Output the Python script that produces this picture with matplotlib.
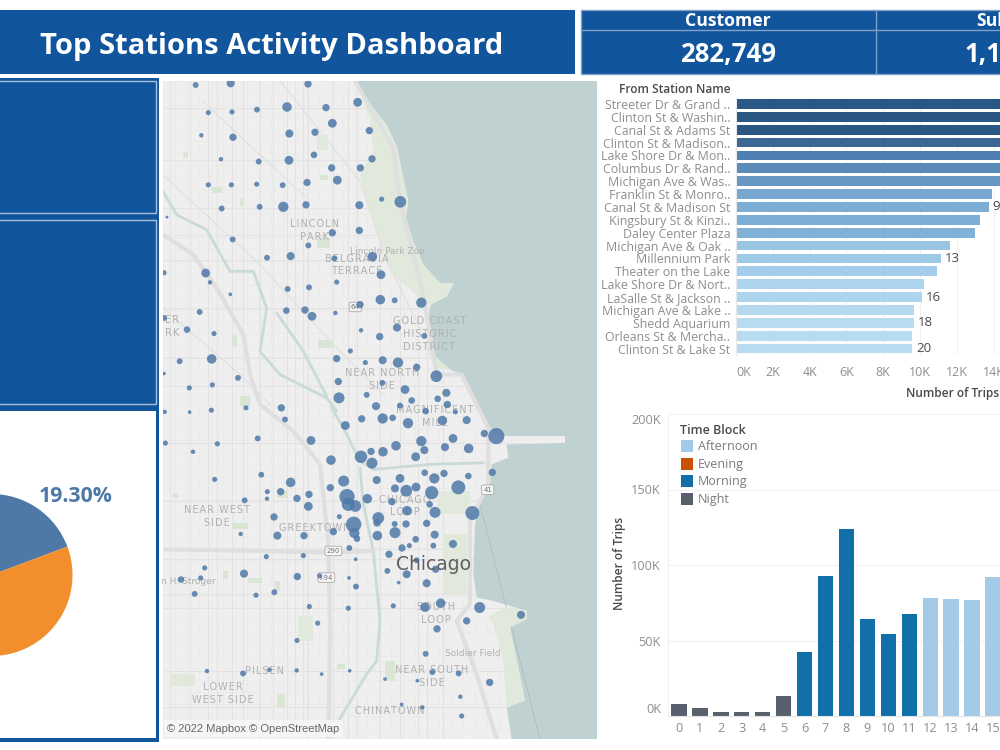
import matplotlib
matplotlib.use("Agg")
import matplotlib.pyplot as plt
import matplotlib.patches as mpatches

plt.rcParams['font.family'] = ['Open Sans', 'DejaVu Sans']

# Bar chart of top stations
station_names = ["Streeter Dr & Grand ..", "Clinton St & Washin..", "Canal St & Adams St", "Clinton St & Madison..",
                 "Lake Shore Dr & Mon..", "Columbus Dr & Rand..", "Michigan Ave & Was..", "Franklin St & Monro..",
                 "Canal St & Madison St", "Kingsbury St & Kinzi..", "Daley Center Plaza", "Michigan Ave & Oak ..",
                 "Millennium Park", "Theater on the Lake", "Lake Shore Dr & Nort..", "LaSalle St & Jackson ..",
                 "Michigan Ave & Lake ..", "Shedd Aquarium", "Orleans St & Mercha..", "Clinton St & Lake St"]
station_trips = [23.0, 21.5, 20.8, 19.6, 17.2, 16.6, 15.6, 13.9, 13.73, 13.24, 12.97, 11.63, 11.12, 10.95,
                 10.23, 10.1, 9.69, 9.66, 9.57, 9.57]
station_colors = ['#2a5783', '#2a5783', '#2a5783', '#3b6795', '#4f7fb0', '#5a8ab8', '#6897c3', '#77a7d0',
                  '#7cadd4', '#7cadd4', '#80b1d7', '#99c5e3', '#9fcae7', '#a3cdea', '#aed5ee', '#aed5ee',
                  '#b5daf0', '#b7dbf0', '#b7dbf0', '#b7dbf0']
rank_shown = [9, 13, 16, 18, 20]
station_ticks = [0, 2, 4, 6, 8, 10, 12, 14]

# Trips per hour
hours = list(range(16))
hour_trips = [8.2, 5.1, 2.9, 2.4, 2.9, 13.2, 42.2, 92.9, 123.6, 64.0, 54.3, 67.8, 78.1, 77.7, 77.0, 92.3]
hour_blocks = ['Night'] * 6 + ['Morning'] * 6 + ['Afternoon'] * 4
block_names = ['Afternoon', 'Evening', 'Morning', 'Night']
block_colors = {'Afternoon': '#a3cbe8', 'Evening': '#c85200', 'Morning': '#1170aa', 'Night': '#57606c'}
trip_ticks = [0, 50, 100, 150, 200]

# Pie chart
pie_shares = [19.30, 80.70]
pie_colors = ['#4e79a7', '#f28e2b']

# KPI header
kpi_names = ['Customer', 'Subscriber']
kpi_values = ['282,749', '1,182,271']

north_stations = [(107,30,8),(212,25,11),(444,27,10),(593,82,12),(381,96,13),(498,98,10),(291,104,8),(145,113,7),
    (216,111,7),(517,145,12),(628,167,10),(388,176,11),(465,172,10),(124,181,6),(219,187,10),(462,240,9),(636,252,10),
    (183,253,6),(296,260,8),(387,256,12),(515,279,10),(601,279,10),(532,316,12),(441,323,10),(145,330,7),(214,330,7),
    (290,328,7),(368,331,8),(665,373,7),(721,381,16),(370,396,14),(438,390,10),(598,391,11),(299,396,8),(185,401,8),
    (21,427,4),(517,474,10),(598,467,10),(218,494,8),(445,512,8),(321,549,8),(392,544,11),(523,551,8),(637,546,13),
    (12,594,7),(137,595,12),(663,600,12),(150,623,6),(530,622,7),(383,643,8),(447,638,8),(211,659,5),(661,675,13),
    (704,677,8),(784,684,14),(600,690,10),(119,712,8),(379,708,9),(435,706,10),(456,725,12),(526,715,6),(12,730,8),
    (81,765,9),(162,777,7),(603,767,6),(711,759,11),(659,786,10),(793,784,8),(571,829,7),(155,853,13),(59,860,8),
    (530,852,10),(616,864,7),(668,857,11),(714,864,14),(770,878,10),(829,905,16),(12,897,5),(234,910,8),(535,921,10),
    (157,931,7),(88,940,7),(667,925,8),(735,945,12),(859,955,11),(620,961,8),(537,970,15),(755,978,9),(833,973,9),
    (862,990,10)]
south_stations = [(14,22,6),(89,23,5),(154,17,7),(258,10,7),(364,10,10),(375,45,8),(648,5,11),(720,3,8),(797,20,9),
    (605,43,10),(668,42,14),(698,40,9),(556,63,12),(744,56,14),(847,48,13),(886,22,7),(920,47,11),(973,87,10),
    (1009,95,22),(293,102,8),(453,108,12),(16,116,7),(172,118,7),(784,110,14),(879,102,12),(708,124,13),(855,128,11),
    (926,132,13),(99,142,6),(633,141,10),(669,142,13),(793,137,11),(603,157,17),(767,157,12),(513,167,13),(636,176,15),
    (997,204,10),(794,205,9),(852,207,10),(925,215,9),(304,211,8),(823,222,14),(720,222,12),(650,227,11),(164,225,7),
    (392,234,13),(551,230,15),(895,249,19),(511,250,10),(705,252,11),(768,248,12),(739,259,16),(815,265,18),(322,262,7),
    (362,262,10),(447,270,10),(321,283,6),(411,282,10),(254,288,8),(561,277,21),(622,283,13),(696,292,10),(565,300,18),
    (586,305,16),(809,300,9),(445,306,12),(741,319,13),(825,324,15),(937,326,19),(342,338,10),(538,337,7),(655,341,16),
    (651,356,10),(704,359,8),(738,359,10),(800,357,10),(581,360,21),(242,389,6),(352,394,11),(432,394,10),(520,382,10),
    (583,386,14),(652,394,13),(705,385,15),(824,391,11),(591,403,9),(767,405,9),(879,419,11),(820,424,8),(748,424,7),
    (726,431,10),(568,431,8),(687,450,10),(319,457,7),(430,454,7),(587,465,5),(770,468,8),(134,491,7),(63,526,9),
    (122,521,7),(252,508,11),(412,517,10),(479,515,7),(567,521,5),(682,500,8),(740,510,11),(827,495,10),(716,535,5),
    (800,537,11),(588,547,8),(104,569,8),(288,573,7),(343,564,8),(448,607,7),(565,612,7),(700,605,7),(795,609,13),
    (842,597,13),(959,610,15),(1083,632,11),(920,650,10),(831,674,10),(473,657,7),(411,709,7),(797,749,8),(141,801,6),
    (249,808,8),(328,797,6),(410,799,6),(485,810,5),(569,800,5),(817,804,8),(896,808,8),(989,835,10),(675,825,5),
    (772,830,5),(901,878,6),(725,901,5),(787,910,6),(905,936,7)]
SOUTH_OFFSET = 990  # the southern list is measured from the middle of the map

# Base map shapes, in the same map units
coast = [(585,18),(605,50),(640,100),(680,150),(712,220),(728,300),(745,380),(738,430),(760,500),(790,570),(840,625),
         (882,625),(860,665),(812,690),(800,750),(818,840),(870,885),(905,900),(945,985),(985,1050),(1000,1075),
         (1040,1085),(1215,1085),(1215,1105),(1040,1110),(1045,1150),(995,1170),(990,1230),(960,1280),(945,1350),
         (940,1500),(950,1570),(1000,1580),(1100,1610),(1100,1635),(1050,1660),(1075,1780),(1095,1880),(1040,1900),
         (1055,1995)]
parks = [
    [(590,30),(605,50),(640,100),(680,150),(712,220),(728,300),(745,380),(738,430),(760,500),(790,570),(840,625),
     (882,625),(860,665),(812,690),(770,660),(700,600),(655,480),(625,400),(600,300),(640,230),(630,130)],
    [(800,750),(818,840),(870,885),(830,880),(805,840)],
    [(985,1625),(1040,1600),(1100,1610),(1100,1635),(1050,1660),(1075,1780),(1095,1880),(1040,1900),(1030,1760),(1000,1650)],
    [(830,1250),(930,1250),(930,1320),(830,1320)], [(850,1380),(920,1380),(920,1560),(850,1560)],
    [(415,1625),(460,1625),(460,1700),(415,1700)], [(30,1800),(105,1800),(105,1835),(30,1835)],
    [(470,180),(505,180),(505,225),(470,225)], [(640,190),(700,190),(700,240),(640,240)],
]
park_blocks = [(70,230,15,20),(155,335,30,20),(240,370,12,25),(480,300,25,15),(470,490,40,30),(215,780,15,35),
               (475,795,45,25),(240,965,30,30),(350,1250,30,20),(40,1255,15,15),(215,1345,50,18),(190,1490,15,25),
               (265,1510,40,15),(345,1520,15,30),(530,1770,25,15),(675,1760,30,60),(350,1860,25,40)]
rivers = [
    [(9,350),(50,420),(140,465),(210,590),(280,590),(320,700),(300,830),(360,900),(500,970),(530,1010)],
    [(350,715),(430,830),(500,965)],
    [(515,1000),(550,1060),(600,1160),(640,1185),(810,1170),(970,1165)],
    [(600,1180),(610,1290),(640,1430),(660,1640),(650,1760),(620,1800),(530,1950)],
]
highways = [
    [(9,480),(100,540),(170,640),(250,780),(270,900),(300,990),(400,1070),(480,1170),(505,1400),(510,1680),(505,1995)],
    [(9,1425),(300,1430),(505,1435),(640,1430)],
    [(585,18),(700,220),(720,380),(780,620),(800,720),(830,900),(905,900),(985,1060),(985,1230),(930,1340),(930,1590),
     (890,1640),(950,1800),(1010,1995)],
]
street_x = [145, 215, 300, 380, 445, 520, 590, 660, 30, 90, 170, 250, 340, 405, 430, 565, 720, 775, 800, 850]
street_y = [100, 255, 400, 480, 555, 700, 850, 935, 1105, 1280, 1425, 1455, 1560, 1600, 1790, 1900]
diagonals = [[(9,300),(300,570),(530,820),(670,960)], [(360,18),(600,320),(680,560),(780,760)],
             [(9,700),(240,900),(330,990)], [(130,80),(300,240),(440,370)]]
lake_cable = [(960,1290),(1140,1995)]

# Text on the map
map_labels = [("LINCOLN\nPARK", 462, 468, 7), ("BELGRAVIA\nTERRACE", 590, 571, 7), ("Lincoln Park Zoo", 682, 531, 6.5),
              ("GOLD COAST\nHISTORIC\nDISTRICT", 808, 778, 7), ("NEAR NORTH\nSIDE", 665, 915, 7),
              ("MAGNIFICENT\nMILE", 825, 1027, 7), ("CHICAGO\nLOOP", 735, 1295, 7), ("NEAR WEST\nSIDE", 172, 1327, 7),
              ("GREEKTOWN", 465, 1360, 7), ("SOUTH\nLOOP", 828, 1619, 7), ("Soldier Field", 938, 1739, 6.5),
              ("NEAR SOUTH\nSIDE", 815, 1808, 7), ("PILSEN", 313, 1790, 7), ("LOWER\nWEST SIDE", 188, 1859, 7),
              ("CHINATOWN", 688, 1911, 7), ("ER\nRK", 35, 755, 7), ("n H. Stroger", 85, 1522, 6.5)]
shields = [("64", 586, 697), ("290", 520, 1430), ("I-94", 499, 1510), ("41", 983, 1246)]

W, H = 1000, 750
BLUE = '#11559c'
LINE = '#7f9fc6'
TICK = '#8e8e8e'
DARK = '#4a4a4a'
GRID = '#f1f1f1'


def px_axes(fig, left, top, right, bottom):
    # axes placed by pixel edges, y measured from the top of the figure
    return fig.add_axes([left / W, 1 - bottom / H, (right - left) / W, (bottom - top) / H])


def spaced(label):
    return "\n".join("\u200a".join(line) for line in label.split("\n"))


fig = plt.figure(figsize=(10, 7.5), dpi=100)

# Panels behind everything, in plain pixels
bg = fig.add_axes([0, 0, 1, 1])
bg.set_xlim(0, W)
bg.set_ylim(H, 0)
bg.axis('off')


def rect(x0, y0, x1, y1, fc='none', ec='none', lw=0):
    bg.add_patch(mpatches.Rectangle((x0, y0), x1 - x0, y1 - y0, facecolor=fc, edgecolor=ec, linewidth=lw))


rect(0, 10, 574.5, 74, fc=BLUE)
bg.text(272, 46.5, 'Top Stations Activity Dashboard', color='white', fontsize=21, fontweight='bold', ha='center', va='center')

# KPI table
rect(580.5, 10, 1001, 73.5, fc=BLUE, ec=LINE, lw=1)
bg.plot([580.5, 1000], [30, 30], color=LINE, lw=1)
bg.plot([875.5, 875.5], [10, 73.5], color=LINE, lw=1)
bg.text(728, 21.5, kpi_names[0], color='white', fontsize=12.7, fontweight='bold', ha='center', va='center')
bg.text(728, 54.5, kpi_values[0], color='white', fontsize=18.5, fontweight='bold', ha='center', va='center')
bg.text(976, 21.5, kpi_names[1], color='white', fontsize=12.7, fontweight='bold', ha='left', va='center')
bg.text(965, 54.5, kpi_values[1], color='white', fontsize=18.5, fontweight='bold', ha='left', va='center')

# Left column frames
rect(-2, 77.5, 159, 742, fc=BLUE)
rect(-2, 81, 155.5, 213, ec='#a9bfdb', lw=1)
rect(-2, 220, 155.5, 404, ec='#a9bfdb', lw=1)
rect(-2, 411, 155.5, 738, fc='white')

# Pie, cut off by the left edge
pie_ax = px_axes(fig, -89.5, 494, 72.5, 656)
pie_ax.pie(pie_shares, colors=pie_colors, startangle=90, counterclock=False, radius=1,
           wedgeprops=dict(linewidth=0))
pie_ax.set_xlim(-1, 1)
pie_ax.set_ylim(-1, 1)
bg.text(76, 496, '19.30%', color=pie_colors[0], fontsize=15.3, fontweight='bold', ha='center', va='center', zorder=5)

# Map
map_ax = px_axes(fig, 163, 81, 597, 739)
map_ax.set_xlim(9, 1311)
map_ax.set_ylim(1995, 18)
map_ax.axis('off')
map_ax.add_patch(mpatches.Rectangle((9, 18), 1302, 1977, facecolor='#efefef', edgecolor='none', zorder=0))
# fine street grid first, the lake then hides whatever runs past the shore
for x in range(9, 1100, 36):
    map_ax.plot([x, x], [18, 1995], color='#e8e8e8', lw=0.4, zorder=0.5)
for y in range(18, 1995, 36):
    map_ax.plot([9, 1100], [y, y], color='#e8e8e8', lw=0.4, zorder=0.5)
for x in street_x:
    map_ax.plot([x, x], [18, 1995], color='#e3e3e3', lw=0.8, zorder=0.6)
for y in street_y:
    map_ax.plot([9, 1100], [y, y], color='#e3e3e3', lw=0.8, zorder=0.6)
for line in diagonals:
    map_ax.plot(*zip(*line), color='#dedede', lw=0.7, zorder=0.6)
map_ax.add_patch(mpatches.Polygon(coast + [(1311, 1995), (1311, 18)], closed=True, facecolor='#bfd1d1', edgecolor='none', zorder=1))
map_ax.plot(*zip(*lake_cable), color='#a9bcbb', lw=0.5, zorder=1.1)
for shape in parks:
    map_ax.add_patch(mpatches.Polygon(shape, closed=True, facecolor='#e0e9dc', edgecolor='none', zorder=1.2))
for x, y, w, h in park_blocks:
    map_ax.add_patch(mpatches.Rectangle((x, y), w, h, facecolor='#d9e6d3', edgecolor='none', zorder=1.2))
for line in rivers:
    map_ax.plot(*zip(*line), color='#c9dbd9', lw=2, zorder=1.8, solid_capstyle='round')
for line in highways:
    map_ax.plot(*zip(*line), color='#dfdfdf', lw=3, zorder=1.9, solid_joinstyle='round')
for label, x, y, size in map_labels:
    is_area = label.upper() == label
    map_ax.text(x, y, spaced(label) if is_area else label, color='#b0b0b0', fontsize=size, ha='center', va='center',
                family='DejaVu Sans', linespacing=1.35, zorder=3)
map_ax.text(820, 1472, 'Chicago', color='#606060', fontsize=13.5, ha='center', va='center', family='DejaVu Sans', zorder=5)
for label, x, y in shields:
    map_ax.text(x, y, label, color='#777777', fontsize=5, ha='center', va='center', family='DejaVu Sans', zorder=3,
                bbox=dict(boxstyle='round,pad=0.25', fc='#f4f4f4', ec='#aaaaaa', lw=0.6))
xs = [s[0] for s in north_stations] + [s[0] for s in south_stations]
ys = [s[1] for s in north_stations] + [s[1] + SOUTH_OFFSET for s in south_stations]
# radius in map units is a third of a pixel, scatter wants points squared
sizes = [(s[2] / 3 * 0.72 * 2 * 1.1) ** 2 for s in north_stations + south_stations]
map_ax.scatter(xs, ys, s=sizes, color='#4e79a7', alpha=0.85, linewidths=0, zorder=4)
map_ax.text(22, 1964, '© 2022 Mapbox © OpenStreetMap', color='#666666', fontsize=8, ha='left', va='center',
            family='Liberation Sans', zorder=5, bbox=dict(fc='#f6f6f6', ec='none', pad=2.5, alpha=0.9))

# Top stations bars
bar_ax = px_axes(fig, 736, 97.5, 1000, 355)
y_pos = list(range(len(station_names)))
bar_ax.barh(y_pos, station_trips, height=0.75, color=station_colors, zorder=2)
bar_ax.set_xlim(0, 264 / 18.4)
bar_ax.set_ylim(19.5, -0.5)
bar_ax.set_yticks(y_pos)
bar_ax.set_yticklabels(station_names, fontsize=8.9, color=TICK)
bar_ax.set_xticks(station_ticks)
bar_ax.set_xticklabels([f'{t}K' for t in station_ticks], fontsize=8.9, color=TICK)
bar_ax.get_xticklabels()[0].set_ha('left')
bar_ax.tick_params(length=0, pad=8)
bar_ax.tick_params(axis='y', pad=4)
bar_ax.xaxis.grid(True, color=GRID, lw=0.8, zorder=0)
bar_ax.set_axisbelow(True)
for side in ['top', 'right', 'bottom']:
    bar_ax.spines[side].set_visible(False)
bar_ax.spines['left'].set_color('#e8e8e8')
for rank in rank_shown:
    bar_ax.text(station_trips[rank - 1] + 0.22, rank - 1, str(rank), fontsize=9.5, color=DARK, va='center', ha='left', zorder=3)
bg.text(731, 89.5, 'From Station Name', fontsize=8.6, color=DARK, fontweight='semibold', ha='right', va='center')
bg.text(953, 393.5, 'Number of Trips', fontsize=8.6, color=DARK, fontweight='semibold', ha='center', va='center')

# Trips by hour
hour_ax = px_axes(fig, 668, 414, 1000, 716)
hour_ax.bar(hours, hour_trips, width=0.75, color=[block_colors[b] for b in hour_blocks], zorder=2)
hour_ax.set_xlim(-0.51, 15.32)
hour_ax.set_ylim(0, 200)
hour_ax.set_xticks(hours)
hour_ax.set_xticklabels([str(h) for h in hours], fontsize=9.2, color=TICK)
hour_ax.set_yticks(trip_ticks)
hour_ax.set_yticklabels([f'{t}K' for t in trip_ticks], fontsize=9.2, color=TICK)
hour_ax.get_yticklabels()[0].set_va('bottom')
hour_ax.get_yticklabels()[-1].set_va('top')
hour_ax.tick_params(length=0, pad=4)
hour_ax.tick_params(axis='y', pad=5)
hour_ax.yaxis.grid(True, color=GRID, lw=0.8, zorder=0)
hour_ax.set_axisbelow(True)
for side in ['right', 'top']:
    hour_ax.spines[side].set_visible(False)
hour_ax.spines['left'].set_color(GRID)
hour_ax.spines['bottom'].set_color('#e4e4e4')
bg.text(619, 563, 'Number of Trips', fontsize=8.6, color=DARK, fontweight='semibold', rotation=90, ha='center', va='center')

# Legend drawn by hand to sit where the original does
fg = fig.add_axes([0, 0, 1, 1], facecolor='none')
fg.set_xlim(0, W)
fg.set_ylim(H, 0)
fg.axis('off')
fg.text(680, 431, 'Time Block', fontsize=9, color=DARK, fontweight='semibold', ha='left', va='center')
for name, y in zip(block_names, [446, 464, 481, 499]):
    fg.add_patch(mpatches.Rectangle((681, y - 6), 12, 12, facecolor=block_colors[name], edgecolor='none'))
    fg.text(697.5, y + 0.7, name, fontsize=9, color='#7a7a7a', ha='left', va='center')

fig.savefig('out.png', dpi=100)
